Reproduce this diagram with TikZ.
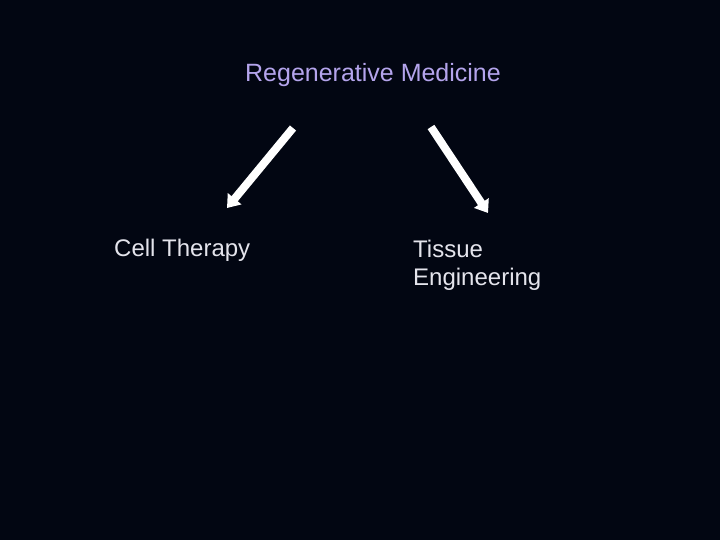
\documentclass[tikz,border=0pt]{standalone}
\usepackage{fontspec}
\setmainfont{Liberation Sans}
\usetikzlibrary{arrows.meta,positioning}
\definecolor{bgnavy}{HTML}{020612}
\definecolor{titlelav}{HTML}{B4A4EC}
\definecolor{itemgray}{HTML}{E4E4EC}

\begin{document}
\begin{tikzpicture}[
    x=1pt, y=1pt,
    title/.style={text=titlelav, font=\fontsize{25}{30}\selectfont, inner sep=0pt},
    item/.style={text=itemgray, font=\fontsize{24}{28}\selectfont, inner sep=0pt, align=left},
    arrow/.style={-{Triangle[length=12pt,width=17pt]}, line width=8pt, white}
]
\fill[bgnavy] (0,0) rectangle (720,540);
\useasboundingbox (0,0) rectangle (720,540);

% Heading and branches
\node[title] (regen) at (373,465) {Regenerative Medicine};
\node[item, anchor=west] (cell) at (114,290) {Cell Therapy};
\node[item, anchor=north west] (tissue) at (413,300) {Tissue\\Engineering};

% Arrow anchors
\coordinate (lstart) at (293,412);
\coordinate (lend) at (227,332);
\coordinate (rstart) at (431,413);
\coordinate (rend) at (488,327);

% Arrows
\draw[arrow] (lstart) -- (lend);
\draw[arrow] (rstart) -- (rend);

\end{tikzpicture}
\end{document}
